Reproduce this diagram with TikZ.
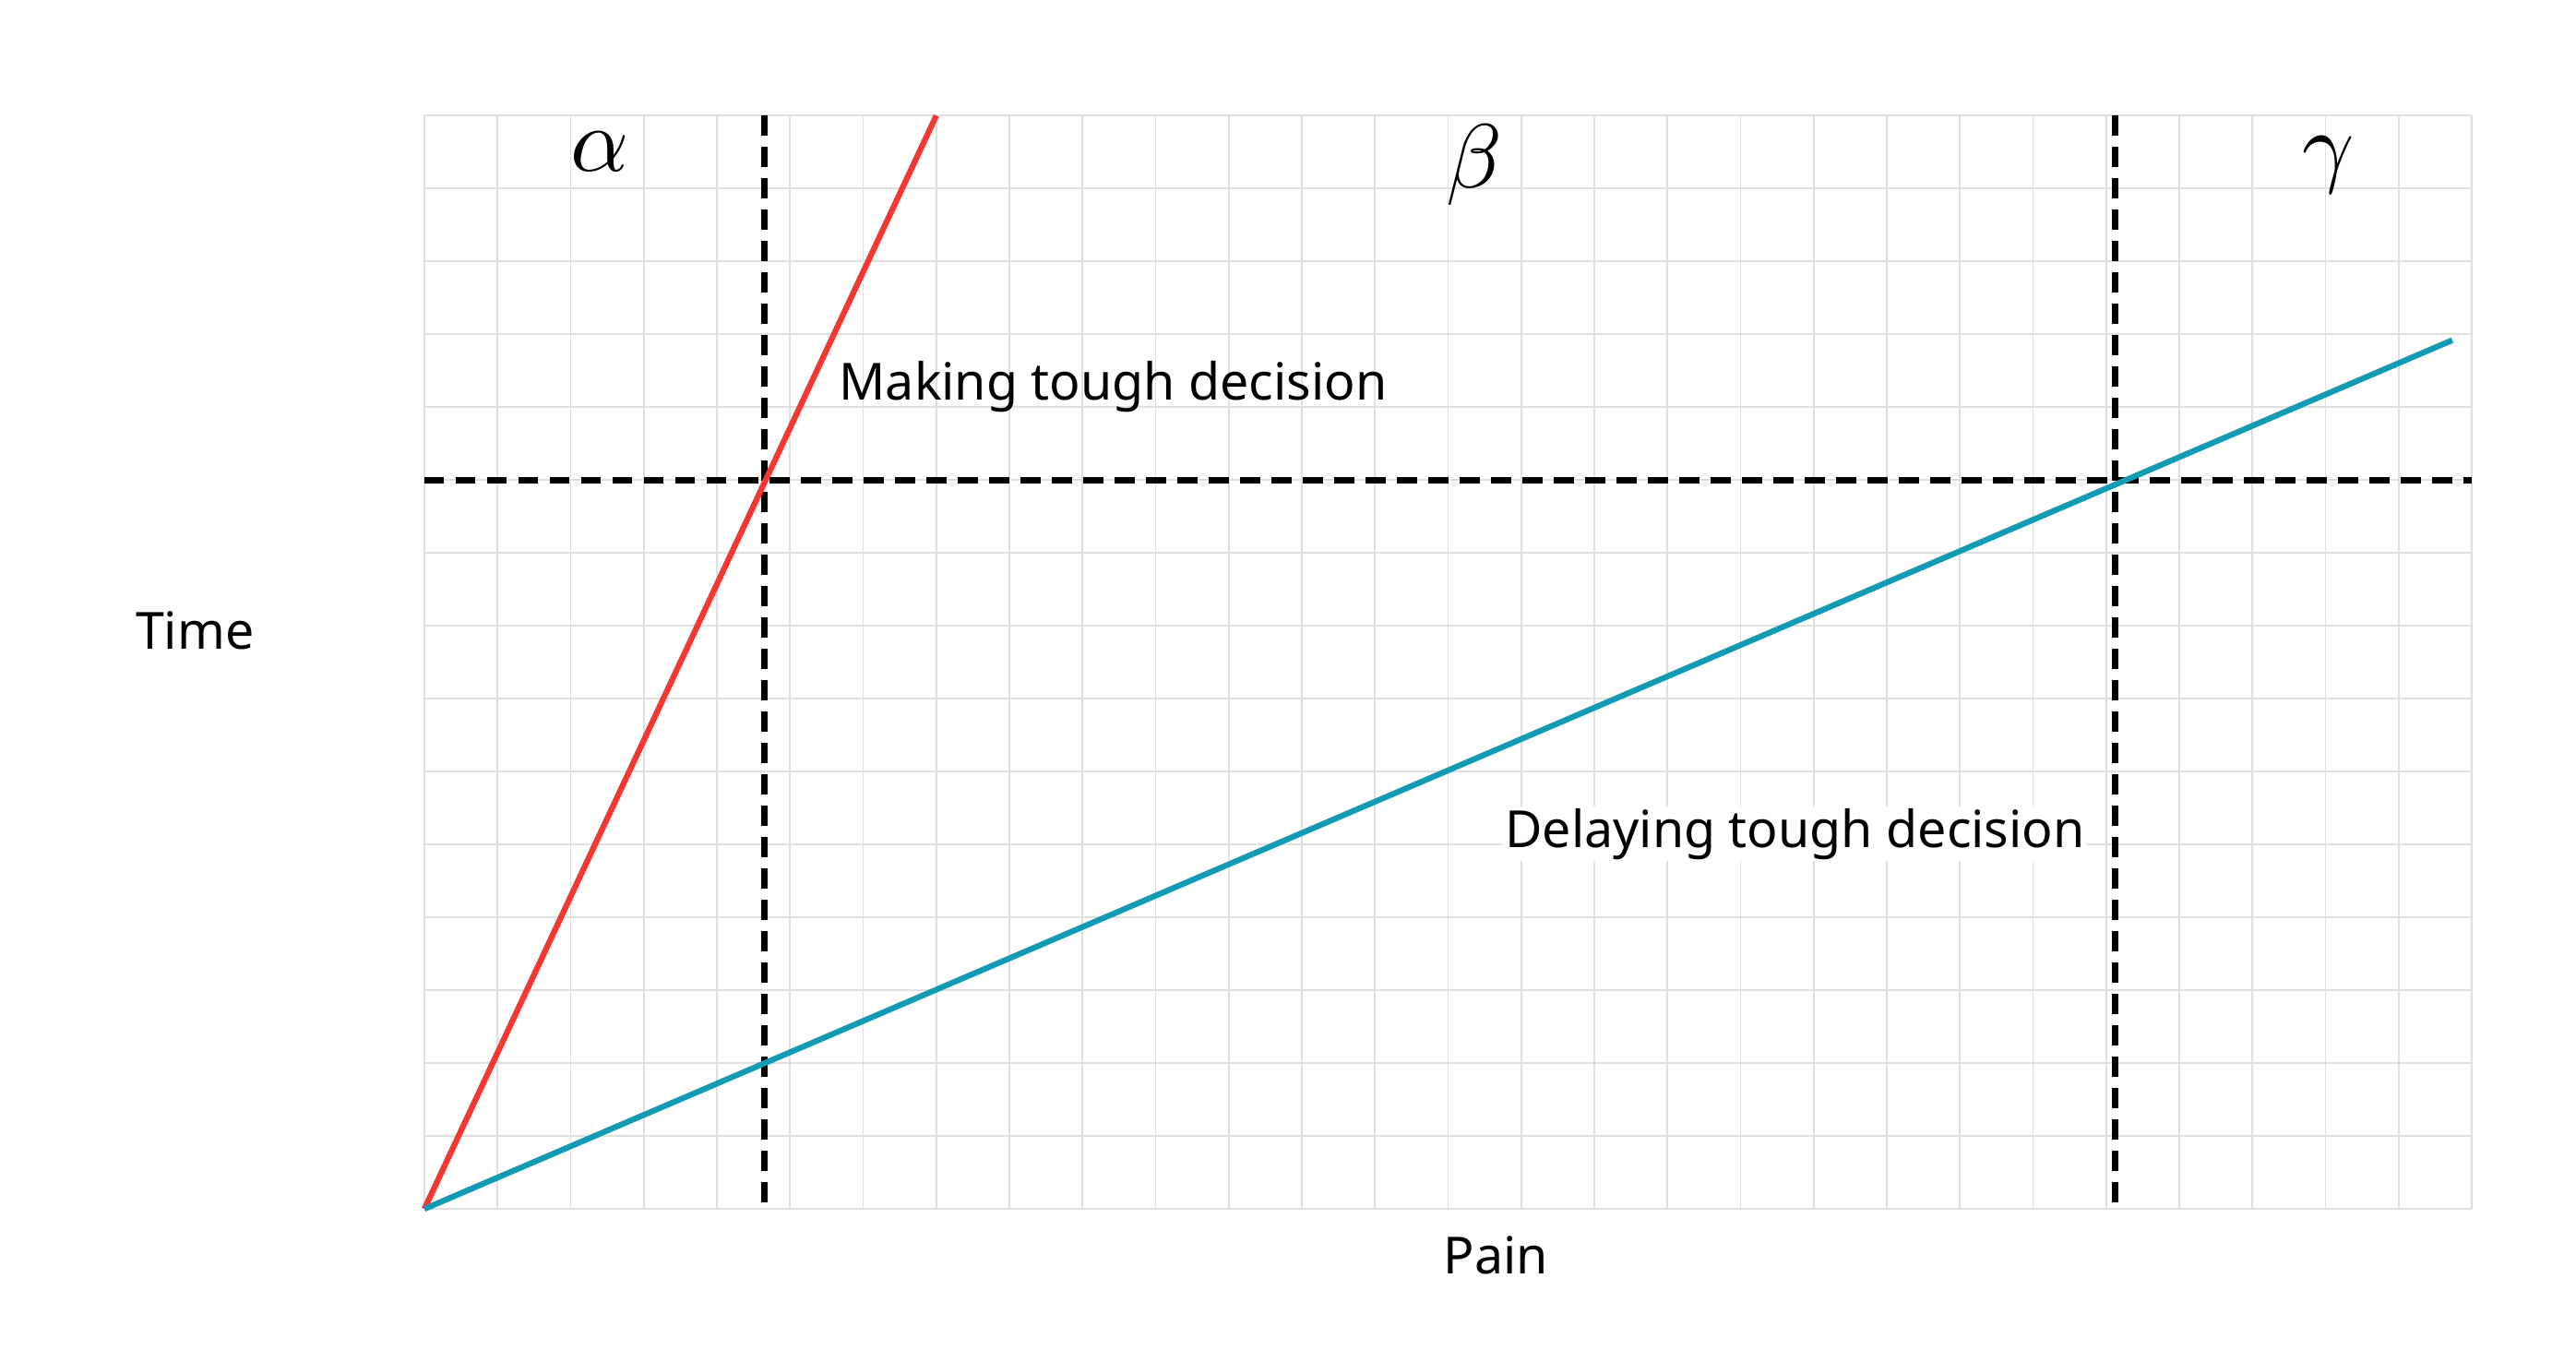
\documentclass[tikz,border=0pt]{standalone}
\usepackage{fontspec}
\setmainfont{Noto Sans}
\begin{document}
\begin{tikzpicture}[x=1pt,y=-1pt,
  gridline/.style={draw=black!12,line width=1pt},
  dashline/.style={draw=black,line width=4pt,dash pattern=on 12pt off 7pt},
  lbl/.style={font=\fontsize{31}{33}\selectfont,text=black},
  greek/.style={scale=5.5}]
\useasboundingbox (0,0) rectangle (1560,817);
\foreach \i in {0,...,28} \draw[gridline] ({257+\i*44.28},70) -- ({257+\i*44.28},732);
\foreach \j in {0,...,15} \draw[gridline] (257,{70+\j*44.13}) -- (1497,{70+\j*44.13});
\coordinate (o) at (257,732);
\coordinate (r) at (567,70);
\coordinate (b) at (1485,206);
\coordinate (v1t) at (463,70); \coordinate (v1b) at (463,732);
\coordinate (v2t) at (1281,70); \coordinate (v2b) at (1281,732);
\coordinate (hl) at (257,291); \coordinate (hr) at (1497,291);
\draw[dashline] (v1t) -- (v1b);
\draw[dashline] (v2t) -- (v2b);
\draw[dashline] (hl) -- (hr);
\draw[line width=3.5pt,draw={rgb,255:red,245;green,55;blue,50}] (o) -- (r);
\draw[line width=3.5pt,draw={rgb,255:red,20;green,155;blue,180}] (o) -- (b);
\node[greek] (al) at (363,92) {$\alpha$};
\node[greek] (be) at (893,100) {$\beta$};
\node[greek] (ga) at (1410,100) {$\gamma$};
\node[lbl,anchor=west,inner sep=0pt] (mk) at (508,234) {Making tough decision};
\node[lbl,fill=white,inner sep=1pt] (dl) at (1087,505) {Delaying tough decision};
\node[lbl] (tm) at (118,382) {Time};
\node[lbl] (pn) at (906,760) {Pain};
\end{tikzpicture}
\end{document}
